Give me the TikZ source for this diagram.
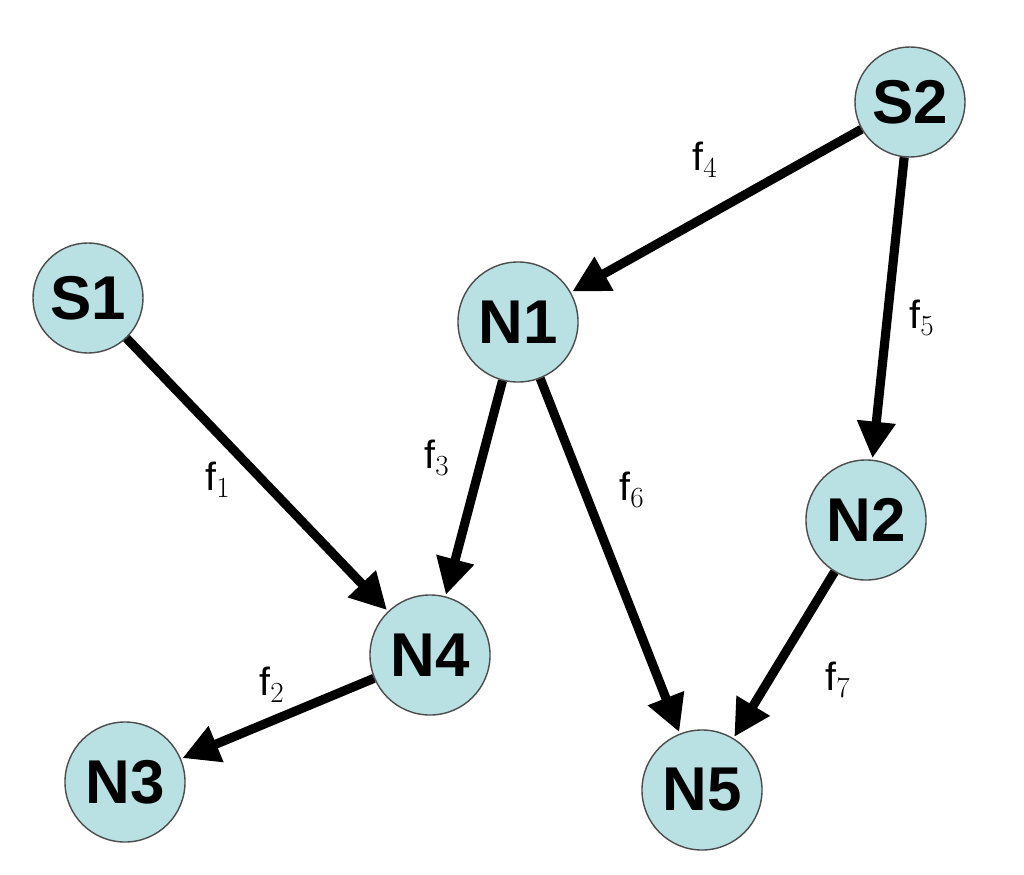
\documentclass[tikz,border=0pt]{standalone}
\usepackage{fontspec}
\setmainfont{Liberation Sans}
\usetikzlibrary{arrows.meta}
\definecolor{nodefill}{HTML}{B9E0E2}
\begin{document}
\begin{tikzpicture}[x=0.025cm,y=-0.025cm,
  nd/.style={circle,draw=black!70,line width=1pt,fill=nodefill,minimum size=3cm,inner sep=0pt,font=\fontsize{44}{44}\selectfont\bfseries},
  ed/.style={line width=6.5pt,-{Triangle[length=26pt,width=26pt]},shorten >=1pt},
  lb/.style={font=\fontsize{28}{28}\selectfont}]
\useasboundingbox (0,0) rectangle (1024,874);
\node[nd,minimum size=2.75cm] (S1) at (88,298) {S1};
\node[nd,minimum size=2.75cm] (S2) at (910,102) {S2};
\node[nd] (N1) at (518,322) {N1};
\node[nd] (N2) at (866,520) {N2};
\node[nd] (N4) at (430,655) {N4};
\node[nd] (N3) at (125,782) {N3};
\node[nd] (N5) at (702,790) {N5};
\draw[ed] (S1) -- (N4);
\draw[ed] (N4) -- (N3);
\draw[ed] (N1) -- (N4);
\draw[ed] (S2) -- (N1);
\draw[ed] (S2) -- (N2);
\draw[ed] (N1) -- (N5);
\draw[ed] (N2) -- (N5);
\node[lb] (l1) at (218,480) {f$_1$};
\node[lb] (l2) at (272,685) {f$_2$};
\node[lb] (l3) at (437,458) {f$_3$};
\node[lb] (l4) at (705,160) {f$_4$};
\node[lb] (l5) at (922,318) {f$_5$};
\node[lb] (l6) at (632,490) {f$_6$};
\node[lb] (l7) at (838,680) {f$_7$};
\end{tikzpicture}
\end{document}
